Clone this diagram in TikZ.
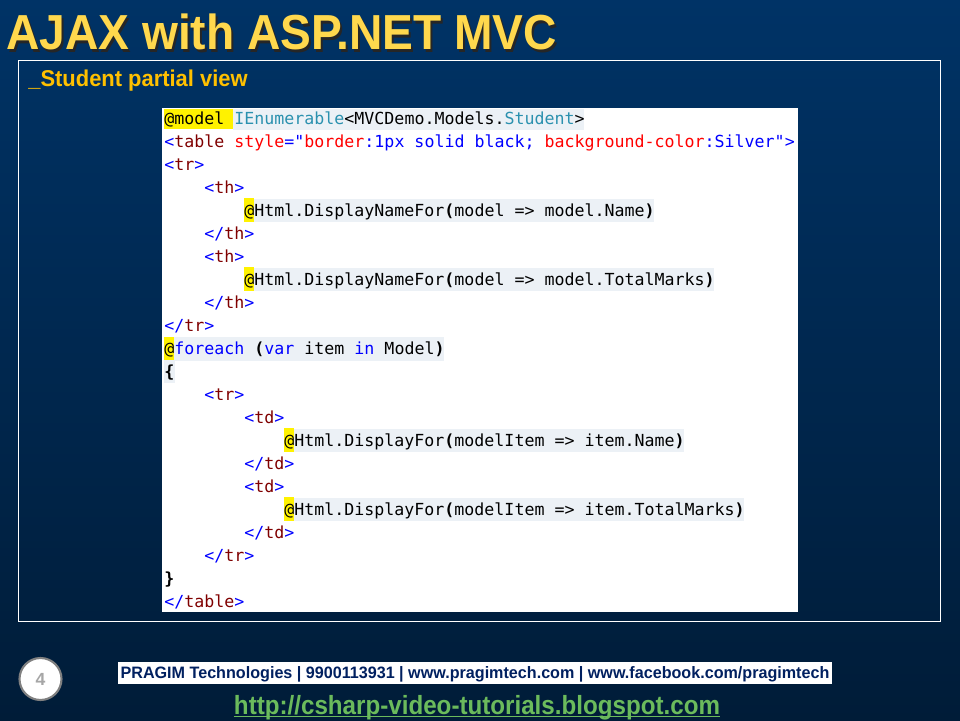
\documentclass[tikz,border=0pt]{standalone}
\usepackage{fontspec}
\setmainfont{Liberation Sans}
\setmonofont{DejaVu Sans Mono}
\usetikzlibrary{calc,backgrounds}

\definecolor{slidetop}{RGB}{0,51,102}
\definecolor{slidebottom}{RGB}{0,28,56}
\definecolor{titleyellow}{RGB}{255,216,77}
\definecolor{subtitleorange}{RGB}{255,192,0}
\definecolor{linkgreen}{RGB}{107,187,92}
\definecolor{footernavy}{RGB}{0,32,96}
\definecolor{lightcode}{RGB}{236,241,246}
\definecolor{codeteal}{RGB}{43,145,175}
\definecolor{codemaroon}{RGB}{128,0,0}

\newcommand{\bl}[1]{\textcolor{blue}{#1}}
\newcommand{\rd}[1]{\textcolor{red}{#1}}
\newcommand{\mr}[1]{\textcolor{codemaroon}{#1}}
\newcommand{\tl}[1]{\textcolor{codeteal}{#1}}
\newcommand{\tagopen}[1]{\bl{<}\mr{#1}\bl{>}}
\newcommand{\tagshut}[1]{\bl{</}\mr{#1}\bl{>}}

\tikzset{
	codeline/.style={anchor=base west,inner sep=0pt,text=black,font=\fontsize{9.46pt}{11pt}\ttfamily},
	titletext/.style={anchor=base west,inner sep=0pt,xscale=0.938,transform shape,font=\fontsize{28pt}{30pt}\bfseries},
	yellowmark/.style={fill=yellow,draw=none},
	lightmark/.style={fill=lightcode,draw=none},
}

\begin{document}
\begin{tikzpicture}[x=0.02cm,y=-0.02cm]
	\useasboundingbox (0,0) rectangle (960,720);
	%slide
	\shade[top color=slidetop,bottom color=slidebottom] (0,0) rectangle (960,720);
	\draw[white,line width=0.57pt] (18.5,60) rectangle (940.5,621);
	\fill[white] (162,108) rectangle (798,612);

	%code marks
	\fill[yellowmark] (164,109) rectangle (233,129);
	\fill[lightmark] (233,109) rectangle (584,130);
	\fill[yellowmark] (244,198) rectangle (254,222);
	\fill[lightmark] (254,199) rectangle (654,222);
	\fill[yellowmark] (244,267) rectangle (254,291);
	\fill[lightmark] (254,268) rectangle (714,291);
	\fill[yellowmark] (164,337) rectangle (174,360);
	\fill[lightmark] (174,337) rectangle (444,361);
	\fill[lightmark] (164,360) rectangle (175,383);
	\fill[yellowmark] (284,428) rectangle (294,452);
	\fill[lightmark] (294,429) rectangle (684,452);
	\fill[yellowmark] (284,497) rectangle (294,521);
	\fill[lightmark] (294,498) rectangle (744,521);

	%code lines
	\node[codeline] (line1) at (164,124) {@model \tl{IEnumerable}<MVCDemo.Models.\tl{Student}>};
	\node[codeline] (line2) at (164,147) {\bl{<}\mr{table} \rd{style}\bl{="}\rd{border}\bl{:1px solid black;} \rd{background-color}\bl{:Silver">}};
	\node[codeline] (line3) at (164,170) {\tagopen{tr}};
	\node[codeline] (line4) at (204,193) {\tagopen{th}};
	\node[codeline] (line5) at (244,216) {@Html.DisplayNameFor\textbf{(}model => model.Name\textbf{)}};
	\node[codeline] (line6) at (204,239) {\tagshut{th}};
	\node[codeline] (line7) at (204,262) {\tagopen{th}};
	\node[codeline] (line8) at (244,285) {@Html.DisplayNameFor\textbf{(}model => model.TotalMarks\textbf{)}};
	\node[codeline] (line9) at (204,308) {\tagshut{th}};
	\node[codeline] (line10) at (164,331) {\tagshut{tr}};
	\node[codeline] (line11) at (164,354) {@\bl{foreach} \textbf{(}\bl{var} item \bl{in} Model\textbf{)}};
	\node[codeline] (line12) at (164,377) {\textbf{\{}};
	\node[codeline] (line13) at (204,400) {\tagopen{tr}};
	\node[codeline] (line14) at (244,423) {\tagopen{td}};
	\node[codeline] (line15) at (284,446) {@Html.DisplayFor\textbf{(}modelItem => item.Name\textbf{)}};
	\node[codeline] (line16) at (244,469) {\tagshut{td}};
	\node[codeline] (line17) at (244,492) {\tagopen{td}};
	\node[codeline] (line18) at (284,515) {@Html.DisplayFor\textbf{(}modelItem => item.TotalMarks\textbf{)}};
	\node[codeline] (line19) at (244,538) {\tagshut{td}};
	\node[codeline] (line20) at (204,561) {\tagshut{tr}};
	\node[codeline] (line21) at (164,584) {\textbf{\}}};
	\node[codeline] (line22) at (164,607) {\tagshut{table}};

	%title labels
	\node[titletext,text=black!85] (titleshadow) at (8,52) {AJAX with ASP.NET MVC};
	\node[titletext,text=titleyellow] (title) at (6,50) {AJAX with ASP.NET MVC};
	\node[anchor=base west,inner sep=0pt,xscale=0.96,transform shape,text=subtitleorange,font=\fontsize{13pt}{15pt}\bfseries] (subtitle) at (28,86) {\_Student partial view};

	%footer
	\node[circle,draw=gray,line width=1.2pt,fill=white,minimum size=0.84cm,inner sep=0pt,text=gray!70,font=\fontsize{10pt}{12pt}\bfseries] (pagenum) at (40.5,679) {4};
	\fill[white] (118,662) rectangle (832,684);
	\node[anchor=base,inner sep=0pt,xscale=0.977,transform shape,text=footernavy,font=\fontsize{9.4pt}{11pt}\bfseries] (footer) at (475,678) {PRAGIM Technologies | 9900113931 | www.pragimtech.com | www.facebook.com/pragimtech};
	\node[anchor=base,inner sep=0pt,xscale=0.917,transform shape,text=linkgreen,font=\fontsize{15pt}{17pt}\bfseries] (blog) at (477,714) {http://csharp-video-tutorials.blogspot.com};
	\draw[linkgreen,line width=0.6pt] (blog.base west |- 0,716.7) -- (blog.base east |- 0,716.7);
\end{tikzpicture}
\end{document}
